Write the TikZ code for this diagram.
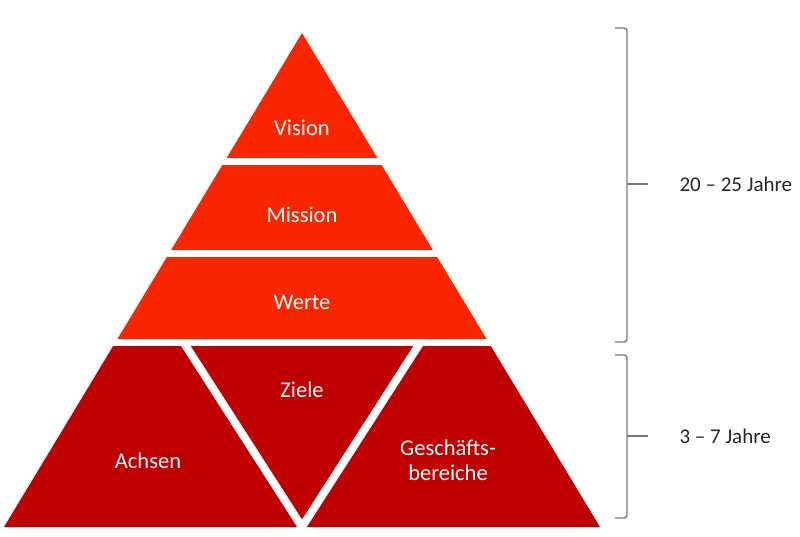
\documentclass[tikz,border=0pt]{standalone}
\usepackage{fontspec}
\setmainfont{Carlito}
\definecolor{toplayer}{RGB}{250,38,0}
\definecolor{baselayer}{RGB}{192,0,0}
\definecolor{bracegray}{RGB}{120,122,130}
\begin{document}
\begin{tikzpicture}[x=1pt, y=-1pt,
  layertext/.style={text=white, font=\fontsize{22.5}{25}\selectfont, align=center},
  yeartext/.style={text=black!85, font=\fontsize{21}{24}\selectfont, anchor=west},
  gap/.style={white, line width=7pt},
  yearbrace/.style={draw=bracegray, line width=1.4pt, rounded corners=3pt}]
\useasboundingbox (0,0) rectangle (800,536);

\fill[toplayer] (302,33) -- (488.4,342) -- (115.6,342) -- cycle;
\fill[baselayer] (115.6,342) -- (488.4,342) -- (600,527) -- (4,527) -- cycle;

\draw[gap] (100,161.5) -- (500,161.5);
\draw[gap] (100,253.5) -- (500,253.5);
\draw[gap] (100,342) -- (500,342);
\begin{scope}
\clip (0,342) rectangle (800,536);
\draw[gap, line width=8pt] (175.6,330) -- (302,527) -- (428.4,330);
\end{scope}

\node[layertext] (vision) at (302,128) {Vision};
\node[layertext] (mission) at (302,215) {Mission};
\node[layertext] (werte) at (302,302) {Werte};
\node[layertext] (ziele) at (302,390) {Ziele};
\node[layertext] (achsen) at (148,461) {Achsen};
\node[layertext] (bereiche) at (448,460) {Geschäfts-\\bereiche};

\draw[yearbrace] (615,28) -- (627,28) -- (627,342) -- (615,342);
\draw[yearbrace] (615,355) -- (627,355) -- (627,518) -- (615,518);
\coordinate (longtip) at (648,184);
\coordinate (shorttip) at (648,436);
\draw[yearbrace] (627,184) -- (longtip);
\draw[yearbrace] (627,436) -- (shorttip);

\node[yeartext] (longterm) at (676,184) {20 – 25 Jahre};
\node[yeartext] (shortterm) at (676,436) {3 – 7 Jahre};
\end{tikzpicture}
\end{document}
